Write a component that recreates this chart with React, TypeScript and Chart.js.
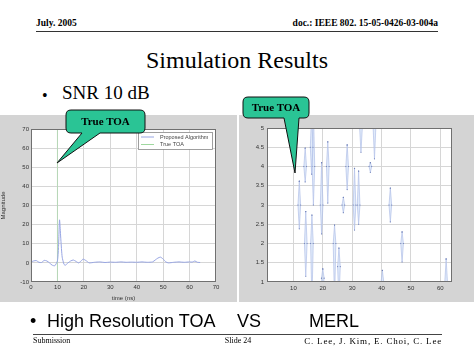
import React, { useEffect, useRef } from "react";
import { Chart, registerables } from "chart.js";
Chart.register(...registerables);

// ---- Left chart: High Resolution TOA (SNR 10 dB) ----
const timeNs = [0, 1, 2, 3, 4, 5, 6, 7, 8, 9, 10, 10.4, 10.8, 11.3, 11.8, 12.5, 13, 14, 15, 16, 17, 18, 19, 19.7, 21, 22, 24, 26, 28, 30, 32, 34, 36, 38, 40, 42, 44, 46, 47, 48, 49, 50, 51, 52, 54, 56, 58, 60, 61, 62, 63, 64];
const magnitude = [0.5, 1, 1.2, 0.3, 0.2, 1.3, 1.0, 0, -1.2, -1.5, 1, 8, 22.5, 12, 3, -0.8, -1.2, 0, 1, 1.5, 0.8, 0, 1, 2, 1, 0, 0.3, 0.5, 0.2, 0.4, 0.3, 0.5, 0.3, 0.4, 0.3, 0.5, 0.3, 0.5, 1.5, 2.5, 3, 2, 0.5, 0, 0.3, 0.5, 0.3, 0.5, 0.4, 1, 0.3, 0.2];
const trueToaTime = [10, 10];
const trueToaMag = [-10, 70];
const leftSeriesLabels = ["Proposed Algorithm", "True TOA"];
const leftXLabel = "time (ns)";
const leftYLabel = "Magnitude";

// ---- Right chart: MERL ----
const merlX = [12, 14, 14.2, 16.3, 16.2, 16.8, 19.6, 20, 21.7, 24, 25.5, 27, 28.3, 30.8, 32.2, 33, 36.2, 37.6, 40.3, 43, 47, 62];
const merlLow = [2.38, 3.6, 1.15, 0.5, 3.8, 3.0, 2.25, 0.8, 3.05, 0.5, 0.5, 2.8, 3.4, 2.35, 2.5, 4.37, 3.85, 4.2, 0.8, 2.56, 1.52, 0.5];
const merlMid = [3, 4, 2, 2, 4.5, 4, 3, 1.1, 4, 2, 1.4, 3, 4, 3, 3, 5, 4, 5, 1, 3, 2, 1];
const merlHigh = [3.62, 4.48, 2.83, 2.74, 5.4, 5.5, 4.1, 1.34, 4.64, 2.48, 1.88, 3.2, 4.56, 3.95, 3.88, 5.5, 4.1, 5.5, 1.3, 3.44, 2.3, 1.6];

const MATLAB_GREY = "#d4d4d4";
const GRID = "#d6d6d6";
const TICK_FONT = { size: 6, family: "'Liberation Sans', Arial, sans-serif" };

const matlabFrame = {
  id: "matlabFrame",
  beforeDraw(chart: any) {
    const { ctx, chartArea: a, width, height } = chart;
    ctx.save();
    ctx.fillStyle = MATLAB_GREY;
    ctx.fillRect(0, 0, width, height);
    ctx.fillStyle = "#ffffff";
    ctx.fillRect(a.left, a.top, a.right - a.left, a.bottom - a.top);
    ctx.restore();
  },
  afterDraw(chart: any) {
    const { ctx, chartArea: a } = chart;
    ctx.save();
    ctx.strokeStyle = "#707070";
    ctx.lineWidth = 1;
    ctx.strokeRect(Math.round(a.left) + 0.5, Math.round(a.top) + 0.5, Math.round(a.right - a.left) - 1, Math.round(a.bottom - a.top) - 1);
    ctx.restore();
  },
};

const insideLegend = {
  id: "insideLegend",
  afterDraw(chart: any) {
    const { ctx, chartArea: a } = chart;
    const w = 74, h = 17;
    const x0 = a.right - w - 4, y0 = a.top + 3;
    ctx.save();
    ctx.fillStyle = "#ffffff";
    ctx.fillRect(x0, y0, w, h);
    ctx.strokeStyle = "#888";
    ctx.lineWidth = 0.8;
    ctx.strokeRect(x0 + 0.5, y0 + 0.5, w, h);
    ctx.font = "5.5px 'Liberation Sans', Arial, sans-serif";
    ctx.textBaseline = "middle";
    chart.data.datasets.forEach((ds: any, i: number) => {
      const yy = y0 + 5 + i * 7.5;
      ctx.strokeStyle = ds.legendColor || ds.borderColor;
      ctx.lineWidth = 1;
      ctx.beginPath();
      ctx.moveTo(x0 + 3, yy);
      ctx.lineTo(x0 + 16, yy);
      ctx.stroke();
      ctx.fillStyle = "#444";
      ctx.fillText(ds.label, x0 + 22, yy);
    });
    ctx.restore();
  },
};

function LeftChart() {
  const ref = useRef<HTMLCanvasElement>(null);
  useEffect(() => {
    const chart = new Chart(ref.current as HTMLCanvasElement, {
      type: "scatter",
      data: {
        datasets: [
          {
            label: leftSeriesLabels[0],
            data: timeNs.map((x, i) => ({ x, y: magnitude[i] })),
            showLine: true,
            borderColor: "#98a6e4",
            borderWidth: 1,
            pointRadius: 0,
            tension: 0.2,
          } as any,
          {
            label: leftSeriesLabels[1],
            data: trueToaTime.map((x, i) => ({ x, y: trueToaMag[i] })),
            showLine: true,
            borderColor: "rgba(160,215,160,0.6)",
            legendColor: "#9fd89f",
            borderWidth: 1,
            pointRadius: 0,
          } as any,
        ],
      },
      options: {
        responsive: false,
        animation: false,
        events: [],
        layout: { padding: { top: 14, right: 21, left: 0, bottom: 0 } },
        plugins: { legend: { display: false }, tooltip: { enabled: false } },
        scales: {
          x: {
            type: "linear",
            min: 0,
            max: 70,
            ticks: { stepSize: 10, font: TICK_FONT, color: "#333", padding: 2, maxRotation: 0, callback: (v: any) => String(v) },
            grid: { color: GRID, drawTicks: false },
            border: { display: false },
            title: { display: true, text: leftXLabel, font: TICK_FONT, color: "#333", padding: 0 },
            afterFit(s: any) { s.height = 20; },
          },
          y: {
            type: "linear",
            min: -10,
            max: 70,
            ticks: { stepSize: 10, font: TICK_FONT, color: "#333", padding: 2, callback: (v: any) => String(v) },
            grid: { color: GRID, drawTicks: false },
            border: { display: false },
            title: { display: true, text: leftYLabel, font: TICK_FONT, color: "#333", padding: 0 },
            afterFit(s: any) { s.width = 31; },
          },
        },
      },
      plugins: [matlabFrame, insideLegend],
    });
    return () => chart.destroy();
  }, []);
  return <canvas ref={ref} width={237} height={187} style={{ position: "absolute", left: 0, top: 115, width: 237, height: 187 }} />;
}

function RightChart() {
  const ref = useRef<HTMLCanvasElement>(null);
  useEffect(() => {
    const hw = 0.45;
    const datasets = merlX.map((x, i) => ({
      label: "MERL " + (i + 1),
      data: [
        { x, y: merlHigh[i] },
        { x: x + hw, y: merlMid[i] },
        { x, y: merlLow[i] },
        { x: x - hw, y: merlMid[i] },
        { x, y: merlHigh[i] },
      ],
      showLine: true,
      fill: "shape",
      backgroundColor: "rgba(205,222,246,0.6)",
      borderColor: "#b2c0e8",
      borderWidth: 0.7,
      pointRadius: 0.6,
      pointBackgroundColor: "#6f80b8",
      pointBorderWidth: 0,
    }));
    const chart = new Chart(ref.current as HTMLCanvasElement, {
      type: "scatter",
      data: { datasets: datasets as any },
      options: {
        responsive: false,
        animation: false,
        events: [],
        layout: { padding: { top: 13, right: 22, left: 0, bottom: 0 } },
        plugins: { legend: { display: false }, tooltip: { enabled: false } },
        scales: {
          x: {
            type: "linear",
            min: 1,
            max: 64,
            afterBuildTicks(s: any) { s.ticks = s.ticks.filter((t: any) => t.value % 10 === 0); },
            ticks: { stepSize: 10, font: TICK_FONT, color: "#333", padding: 3, maxRotation: 0, callback: (v: any) => String(v) },
            grid: { color: GRID, drawTicks: false },
            border: { display: false },
            afterFit(s: any) { s.height = 20; },
          },
          y: {
            type: "linear",
            min: 1,
            max: 5,
            ticks: { stepSize: 0.5, font: TICK_FONT, color: "#333", padding: 3, callback: (v: any) => String(v) },
            grid: { color: GRID, drawTicks: false },
            border: { display: false },
            afterFit(s: any) { s.width = 28; },
          },
        },
      },
      plugins: [matlabFrame],
    });
    return () => chart.destroy();
  }, []);
  return <canvas ref={ref} width={235} height={187} style={{ position: "absolute", left: 239, top: 115, width: 235, height: 187 }} />;
}

const serif = "'Liberation Serif', 'Times New Roman', serif";
const sans = "'Liberation Sans', Arial, sans-serif";

function T(props: { x: number; y: number; size: number; text: string; bold?: boolean; font?: string; align?: "left" | "right" | "center"; spacing?: number }) {
  const { x, y, size, text, bold, font, align, spacing } = props;
  const style: any = {
    position: "absolute",
    top: y,
    fontSize: size,
    lineHeight: 1,
    fontFamily: font || serif,
    fontWeight: bold ? "bold" : "normal",
    whiteSpace: "nowrap",
    color: "#000",
    letterSpacing: spacing || 0,
  };
  if (align === "right") { style.right = 474 - x; }
  else if (align === "center") { style.left = x; style.transform = "translateX(-50%)"; }
  else { style.left = x; }
  return <div style={style}>{text}</div>;
}

export default function App() {
  return (
    <div style={{ position: "fixed", left: 0, top: 0, width: 474, height: 355, background: "#fff", overflow: "hidden" }}>
      <T x={36} y={19} size={9.5} bold text="July. 2005" />
      <T x={438} y={19} size={9.5} bold align="right" text="doc.: IEEE 802. 15-05-0426-03-004a" />
      <div style={{ position: "absolute", left: 36, top: 30.5, width: 402, height: 1.5, background: "#333" }} />
      <T x={237} y={47.5} size={24} align="center" text="Simulation Results" />
      <T x={42} y={88} size={16} text="•" />
      <T x={62} y={83} size={19} text="SNR 10 dB" />

      <LeftChart />
      <RightChart />

      <svg width={474} height={355} style={{ position: "absolute", left: 0, top: 0, pointerEvents: "none" }}>
        <path d="M 71 110 H 140 Q 145 110 145 115 V 128 Q 145 133 140 133 H 100 L 57 163 L 82 133 H 71 Q 66 133 66 128 V 115 Q 66 110 71 110 Z" fill="#2ac495" stroke="#111" strokeWidth={1} />
        <path d="M 248 97 H 304 Q 309 97 309 102 V 113 Q 309 118 304 118 H 299 L 295 173 L 284 118 H 248 Q 243 118 243 113 V 102 Q 243 97 248 97 Z" fill="#2ac495" stroke="#111" strokeWidth={1} />
      </svg>
      <T x={105.5} y={115.5} size={11} bold align="center" text="True TOA" />
      <T x={276} y={101.5} size={11} bold align="center" text="True TOA" />

      <T x={30} y={312} size={18} font={sans} text="•" />
      <T x={47} y={312.3} size={18} font={sans} text="High Resolution TOA" />
      <T x={237} y={312.3} size={18} font={sans} text="VS" />
      <T x={309} y={312.3} size={18} font={sans} text="MERL" />
      <div style={{ position: "absolute", left: 33, top: 334, width: 409, height: 1, background: "#444" }} />
      <T x={33} y={337} size={8} text="Submission" />
      <T x={238} y={337} size={8} align="center" text="Slide 24" />
      <T x={442} y={337} size={9} align="right" spacing={0.8} text="C. Lee, J. Kim, E. Choi, C. Lee" />
    </div>
  );
}
